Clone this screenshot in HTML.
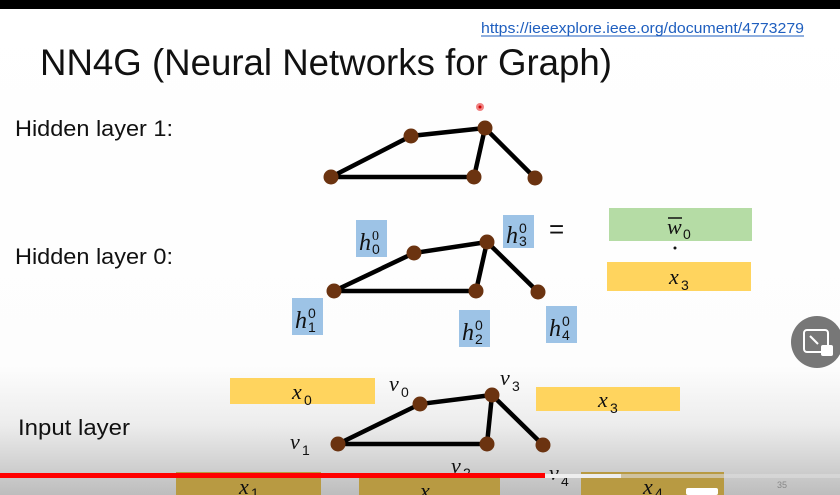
<!DOCTYPE html>
<html><head><meta charset="utf-8"><style>
html,body{margin:0;padding:0;width:840px;height:495px;overflow:hidden}
svg{display:block}
text{font-family:"Liberation Sans",sans-serif}
.m{font-family:"Liberation Serif",serif;font-style:italic}
</style></head><body>
<svg width="840" height="495" viewBox="0 0 840 495" xmlns="http://www.w3.org/2000/svg">
<defs>
<linearGradient id="bg" x1="0" y1="0" x2="0" y2="1">
<stop offset="0" stop-color="#ffffff"/><stop offset="0.74" stop-color="#fdfdfd"/><stop offset="0.86" stop-color="#ececec"/><stop offset="1" stop-color="#bdbdbd"/>
</linearGradient>
</defs>
<rect width="840" height="495" fill="url(#bg)"/>
<rect width="840" height="9" fill="#000"/>
<text x="481" y="33" font-size="14.5" fill="#1f5fbf" textLength="323" lengthAdjust="spacingAndGlyphs">https://ieeexplore.ieee.org/document/4773279</text>
<line x1="481" y1="36" x2="804" y2="36" stroke="#1f5fbf" stroke-width="1"/>
<text x="40" y="75" font-size="37" fill="#111" textLength="572" lengthAdjust="spacingAndGlyphs">NN4G (Neural Networks for Graph)</text>
<text x="15" y="136" font-size="22" fill="#111" textLength="158" lengthAdjust="spacingAndGlyphs">Hidden layer 1:</text>
<text x="15" y="264" font-size="22" fill="#111" textLength="158" lengthAdjust="spacingAndGlyphs">Hidden layer 0:</text>
<text x="18" y="435" font-size="22" fill="#111" textLength="112" lengthAdjust="spacingAndGlyphs">Input layer</text>
<circle cx="480" cy="107" r="4" fill="#f08080"/><circle cx="480" cy="107" r="1.5" fill="#c00"/>
<g stroke="#000" stroke-width="4.5" fill="none">
<polyline points="331,177 411,136 485,128 474,177 331,177"/><line x1="485" y1="128" x2="535" y2="178"/>
<polyline points="334,291 414,253 487,242 476,291 334,291"/><line x1="487" y1="242" x2="538" y2="292"/>
<polyline points="338,444 420,404 492,395 487,444 338,444"/><line x1="492" y1="395" x2="543" y2="445"/>
</g>
<g fill="#6b3310">
<circle cx="331" cy="177" r="7.5"/><circle cx="411" cy="136" r="7.5"/><circle cx="485" cy="128" r="7.5"/><circle cx="474" cy="177" r="7.5"/><circle cx="535" cy="178" r="7.5"/>
<circle cx="334" cy="291" r="7.5"/><circle cx="414" cy="253" r="7.5"/><circle cx="487" cy="242" r="7.5"/><circle cx="476" cy="291" r="7.5"/><circle cx="538" cy="292" r="7.5"/>
<circle cx="338" cy="444" r="7.5"/><circle cx="420" cy="404" r="7.5"/><circle cx="492" cy="395" r="7.5"/><circle cx="487" cy="444" r="7.5"/><circle cx="543" cy="445" r="7.5"/>
</g>
<g fill="#9dc3e6">
<rect x="356" y="220" width="31" height="37"/><rect x="503" y="215" width="31" height="33"/>
<rect x="292" y="298" width="31" height="37"/><rect x="459" y="310" width="31" height="37"/><rect x="546" y="306" width="31" height="37"/>
</g>
<g class="m" fill="#111" font-size="24">
<text x="359" y="250" class="m">h</text><text x="372" y="240" font-size="14" class="m" style="font-style:normal">0</text><text x="372" y="254" font-size="14" style="font-style:normal">0</text>
<text x="506" y="243" class="m">h</text><text x="519" y="233" font-size="14" style="font-style:normal">0</text><text x="519" y="246" font-size="14" style="font-style:normal">3</text>
<text x="295" y="328" class="m">h</text><text x="308" y="318" font-size="14" style="font-style:normal">0</text><text x="308" y="332" font-size="14" style="font-style:normal">1</text>
<text x="462" y="340" class="m">h</text><text x="475" y="330" font-size="14" style="font-style:normal">0</text><text x="475" y="344" font-size="14" style="font-style:normal">2</text>
<text x="549" y="336" class="m">h</text><text x="562" y="326" font-size="14" style="font-style:normal">0</text><text x="562" y="340" font-size="14" style="font-style:normal">4</text>
</g>
<text x="549" y="238" font-size="26" fill="#111">=</text>
<rect x="609" y="208" width="143" height="33" fill="#b5dca5"/>
<text x="667" y="234" class="m" font-size="22" fill="#111">w</text><line x1="668" y1="218" x2="682" y2="218" stroke="#111" stroke-width="1.5"/>
<text x="683" y="239" font-size="14" fill="#111">0</text>
<circle cx="675" cy="248" r="1.5" fill="#111"/>
<rect x="607" y="262" width="144" height="29" fill="#ffd45e"/>
<text x="669" y="284" class="m" font-size="22" fill="#111">x</text><text x="681" y="290" font-size="14" fill="#111">3</text>
<rect x="230" y="378" width="145" height="26" fill="#ffd45e"/>
<text x="292" y="399" class="m" font-size="22" fill="#111">x</text><text x="304" y="405" font-size="14" fill="#111">0</text>
<rect x="536" y="387" width="144" height="24" fill="#ffd45e"/>
<text x="598" y="407" class="m" font-size="22" fill="#111">x</text><text x="610" y="413" font-size="14" fill="#111">3</text>
<g fill="#111">
<text x="389" y="391" class="m" font-size="22">v</text><text x="401" y="397" font-size="14">0</text>
<text x="500" y="385" class="m" font-size="22">v</text><text x="512" y="391" font-size="14">3</text>
<text x="290" y="449" class="m" font-size="22">v</text><text x="302" y="455" font-size="14">1</text>
<text x="451" y="473" class="m" font-size="22">v</text><text x="463" y="478" font-size="14">2</text>
<text x="549" y="480" class="m" font-size="22">v</text><text x="561" y="486" font-size="14">4</text>
</g>
<rect x="176" y="472" width="145" height="23" fill="#b89a42"/>
<rect x="359" y="476" width="141" height="19" fill="#b89a42"/>
<rect x="581" y="472" width="143" height="23" fill="#b89a42"/>
<g fill="#111">
<text x="239" y="494" class="m" font-size="22">x</text><text x="251" y="498" font-size="14">1</text>
<text x="420" y="498" class="m" font-size="22">x</text>
<text x="643" y="494" class="m" font-size="22">x</text><text x="655" y="498" font-size="14">4</text>
</g>
<rect x="545" y="474" width="295" height="4" fill="#ddd" opacity="0.6"/>
<rect x="545" y="474" width="76" height="4" fill="#eee"/>
<rect x="0" y="473" width="545" height="5" fill="#f00"/>
<text x="777" y="488" font-size="9" fill="#888">35</text>
<rect x="686" y="488" width="32" height="7" rx="2" fill="#fff"/>
<circle cx="817" cy="342" r="26" fill="#777"/>
<rect x="804" y="330" width="24" height="22" rx="3" fill="none" stroke="#fff" stroke-width="2"/>
<rect x="821" y="345" width="12" height="11" rx="2" fill="#fff"/>
<line x1="810" y1="336" x2="818" y2="344" stroke="#fff" stroke-width="2"/>
</svg>
</body></html>
